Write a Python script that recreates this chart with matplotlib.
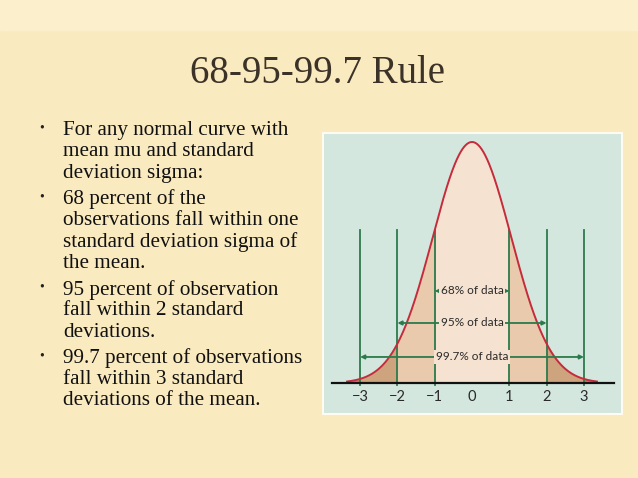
import numpy as np
import matplotlib
matplotlib.use("Agg")
import matplotlib.pyplot as plt
from matplotlib.patches import Rectangle

# slide text
title = "68-95-99.7 Rule"
bullets = [
    ["For any normal curve with", "mean mu and standard", "deviation sigma:"],
    ["68 percent of the", "observations fall within one",
     "standard deviation sigma of", "the mean."],
    ["95 percent of observation", "fall within 2 standard", "deviations."],
    ["99.7 percent of observations", "fall within 3 standard",
     "deviations of the mean."],
]

# chart values
sigma_ticks = [-3, -2, -1, 0, 1, 2, 3]
tick_labels = ["\u22123", "\u22122", "\u22121", "0", "1", "2", "3"]
coverage_k = [1, 2, 3]
coverage_labels = ["68% of data", "95% of data", "99.7% of data"]
curve_sd = 1.05          # drawn curve is a bit wider than the tick spacing
curve_limit = 3.35

band_colors = ["#F5E2D0", "#E9CAAD", "#CDA47E", "#B8875A"]
green = "#2C7A4B"
red = "#C62B3B"
panel_bg = "#D4E7DE"
slide_bg = "#FAEABF"

W, H = 638, 478
fig = plt.figure(figsize=(W / 100, H / 100), dpi=100)
fig.patch.set_facecolor(slide_bg)

# slide background + panel frame
bg = fig.add_axes([0, 0, 1, 1])
bg.set_xlim(0, W)
bg.set_ylim(H, 0)
bg.axis("off")
bg.add_patch(Rectangle((0, 0), W, 30, color="#FCF0CC", zorder=0))
bg.add_patch(Rectangle((322, 132), 301, 283, facecolor="#FFFBF0", edgecolor="none"))
bg.add_patch(Rectangle((324, 134), 297, 279, facecolor=panel_bg, edgecolor="none"))

bg.text(318, 73, title, fontsize=28, family="Liberation Serif", color="#3B3228",
        ha="center", va="center")

baselines = [135, 156.3, 178, 204, 225.3, 247, 268, 294.7, 315.3, 337, 363, 384, 405.3]
i = 0
for group in bullets:
    bg.text(42, baselines[i] - 4, "\u2022", fontsize=10, family="Liberation Serif",
            color="#222222", ha="center", va="baseline")
    for line in group:
        bg.text(63, baselines[i], line, fontsize=15.2, family="Liberation Serif",
                color="#111111", ha="left", va="baseline")
        i += 1

# chart axes in pixel-matched data units
x0_px, unit_px, base_px, peak_px = 472, 37.3, 383, 241
left, right, top, bottom = 326, 620, 134, 412
ax = fig.add_axes([left / W, (H - bottom) / H, (right - left) / W, (bottom - top) / H])
ax.set_xlim((left - x0_px) / unit_px, (right - x0_px) / unit_px)
ax.set_ylim((base_px - bottom) / peak_px, (base_px - top) / peak_px)
ax.axis("off")

x = np.linspace(-curve_limit, curve_limit, 600)
y = np.exp(-x ** 2 / (2 * curve_sd ** 2))

edges = [(-1, 1, 0), (-2, -1, 1), (1, 2, 1), (-3, -2, 2), (2, 3, 2),
         (-curve_limit, -3, 3), (3, curve_limit, 3)]
for a, b, c in edges:
    m = (x >= a) & (x <= b)
    ax.fill_between(x[m], 0, y[m], color=band_colors[c], lw=0, zorder=1)

line_top = np.exp(-1 / (2 * curve_sd ** 2))
for t in sigma_ticks:
    if t == 0:
        continue
    ax.plot([t, t], [-0.01, line_top], color=green, lw=1.3, zorder=3)

ax.plot(x, y, color=red, lw=1.4, zorder=4)
ax.plot([-3.75, 3.81], [0, 0], color="#111111", lw=1.6, zorder=5)

label_font = "Lato"
for t, lab in zip(sigma_ticks, tick_labels):
    ax.text(t, -0.058, lab, ha="center", va="center", fontsize=10.5,
            family=label_font, color="#2A2A2A")

arrow_y = [0.382, 0.249, 0.108]
for k, lab, ay in zip(coverage_k, coverage_labels, arrow_y):
    ax.annotate("", xy=(-k, ay), xytext=(k, ay),
                arrowprops=dict(arrowstyle="<|-|>", color=green, lw=1.3,
                                mutation_scale=6, shrinkA=0, shrinkB=0), zorder=6)
    ax.text(0, ay, lab, ha="center", va="center", fontsize=8.5, family=label_font,
            color="#2A2A2A", zorder=7,
            bbox=dict(facecolor=band_colors[0], edgecolor="none", pad=1.0))

fig.savefig("out.png", dpi=100, facecolor=fig.get_facecolor())
